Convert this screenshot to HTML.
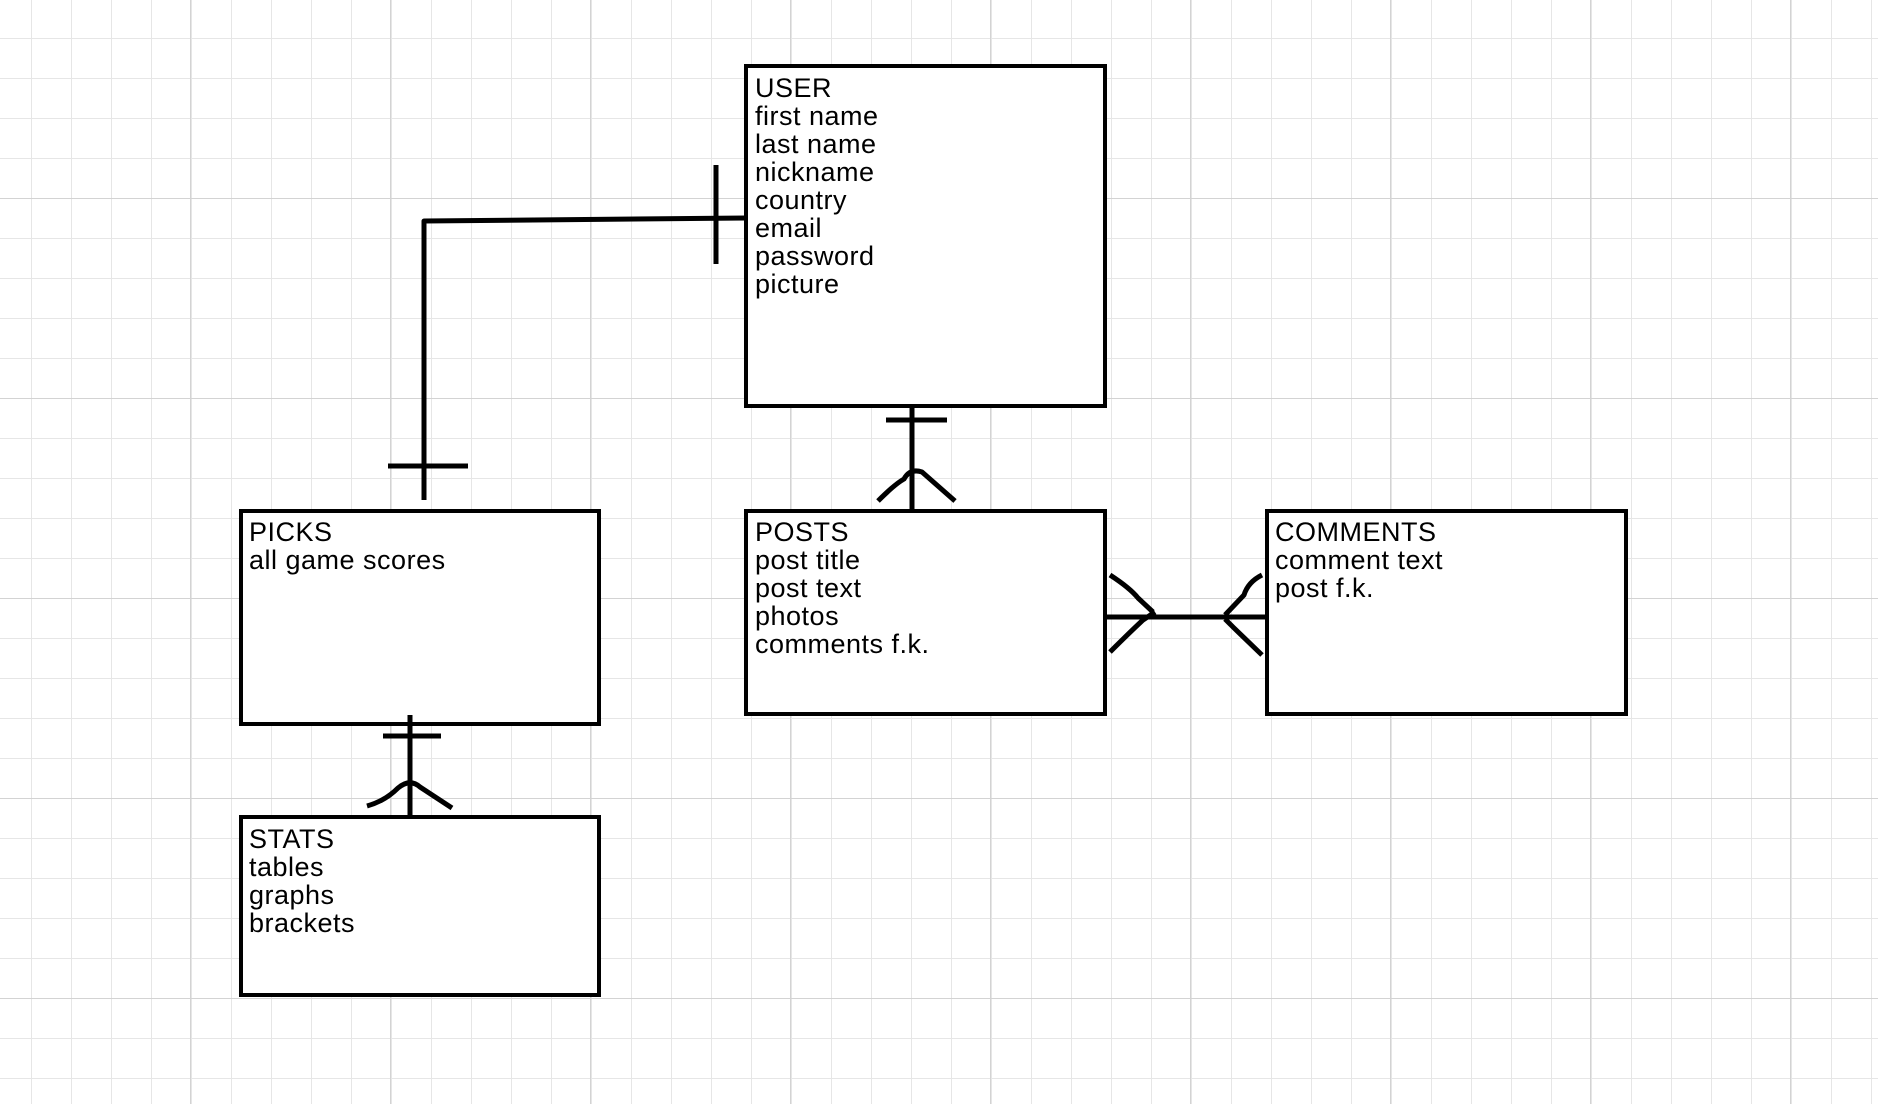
<!DOCTYPE html>
<html><head><meta charset="utf-8"><style>
html,body{margin:0;padding:0;background:#fff;}
svg{display:block;}
text{font-family:"Liberation Sans",Arial,sans-serif;font-size:27px;letter-spacing:0.5px;fill:#000;}
</style></head><body>
<svg width="1878" height="1104" viewBox="0 0 1878 1104" xmlns="http://www.w3.org/2000/svg">
<defs>
<pattern id="minor" x="31" y="38" width="40" height="40" patternUnits="userSpaceOnUse">
<path d="M0 0V40M0 0H40" stroke="#e6e6e6" stroke-width="2" fill="none"/>
</pattern>
<pattern id="major" x="190" y="198" width="200" height="200" patternUnits="userSpaceOnUse">
<path d="M0 0V200M0 0H200" stroke="#d3d3d3" stroke-width="2" fill="none"/>
</pattern>
</defs>
<rect width="1878" height="1104" fill="#fff"/>
<rect width="1878" height="1104" fill="url(#minor)"/>
<rect width="1878" height="1104" fill="url(#major)"/>

<g fill="#fff" stroke="#000" stroke-width="4">
<rect x="746" y="66" width="359" height="340"/>
<rect x="241" y="511" width="358" height="213"/>
<rect x="241" y="817" width="358" height="178"/>
<rect x="746" y="511" width="359" height="203"/>
<rect x="1267" y="511" width="359" height="203"/>
</g>

<g fill="none" stroke="#000" stroke-width="5" stroke-linecap="butt" stroke-linejoin="round">
<path d="M424 500 V221 L746 218"/>
<path d="M716 165 V264"/>
<path d="M388 466 H468"/>
<path d="M912 407 V512"/>
<path d="M886 420 H947"/>
<path d="M878 501 Q895 484 904 479 Q910 468 922 472 L955 501"/>
<path d="M410 715 V817"/>
<path d="M383 736 H441"/>
<path d="M367 806 Q385 801 398 788 Q410 778 420 787 L452 808"/>
<path d="M1105 617 H1267"/>
<path d="M1110 575 Q1130 588 1138 598 L1153 612 M1110 652 Q1128 634 1143 620 L1155 612"/>
<path d="M1262 575 Q1248 582 1244 595 L1225 615 M1262 655 L1234 628 L1225 619"/>
</g>

<g>
<text x="755" y="97">USER</text>
<text x="755" y="125">first name</text>
<text x="755" y="153">last name</text>
<text x="755" y="181">nickname</text>
<text x="755" y="209">country</text>
<text x="755" y="237">email</text>
<text x="755" y="265">password</text>
<text x="755" y="293">picture</text>

<text x="249" y="541">PICKS</text>
<text x="249" y="569">all game scores</text>

<text x="249" y="848">STATS</text>
<text x="249" y="876">tables</text>
<text x="249" y="904">graphs</text>
<text x="249" y="932">brackets</text>

<text x="755" y="541">POSTS</text>
<text x="755" y="569">post title</text>
<text x="755" y="597">post text</text>
<text x="755" y="625">photos</text>
<text x="755" y="653">comments f.k.</text>

<text x="1275" y="541">COMMENTS</text>
<text x="1275" y="569">comment text</text>
<text x="1275" y="597">post f.k.</text>
</g>
</svg>
</body></html>
